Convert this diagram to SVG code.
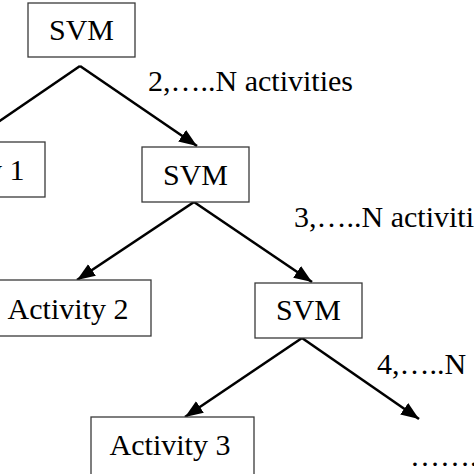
<svg xmlns="http://www.w3.org/2000/svg" width="474" height="474" viewBox="0 0 474 474">
<style>
.box{fill:#fff;stroke:#3a3a3a;stroke-width:1.3}
.t{font-family:"Liberation Serif","Times New Roman",serif;font-size:30px;fill:#000}
.c{text-anchor:middle}
.e{stroke:#000;stroke-width:2.6;fill:none;marker-end:url(#ah)}
</style>
<defs>
<marker id="ah" markerUnits="userSpaceOnUse" markerWidth="20" markerHeight="16" refX="18" refY="7" orient="auto">
<path d="M0,0 L18,7 L0,14 Z" fill="#000"/>
</marker>
</defs>
<rect width="474" height="474" fill="#fff"/>
<g id="connectors">
<line class="e" x1="80" y1="66" x2="-31" y2="142"/>
<line class="e" x1="80" y1="66" x2="197" y2="146"/>
<line class="e" x1="194" y1="202" x2="77" y2="280"/>
<line class="e" x1="194" y1="202" x2="312" y2="282"/>
<line class="e" x1="302" y1="338" x2="185" y2="417"/>
<line class="e" x1="302" y1="338" x2="419" y2="419"/>
</g>
<g id="svm1"><rect class="box" x="28" y="3" width="107" height="54"/><text class="t c" x="81.5" y="40">SVM</text></g>
<g id="activity1"><rect class="box" x="-118" y="142" width="163" height="55"/><text class="t c" x="-36" y="180">Activity 1</text></g>
<g id="svm2"><rect class="box" x="142" y="147" width="107" height="55"/><text class="t c" x="195.5" y="185">SVM</text></g>
<g id="activity2"><rect class="box" x="-12" y="280" width="163" height="56"/><text class="t c" x="68" y="319">Activity 2</text></g>
<g id="svm3"><rect class="box" x="255" y="283" width="107" height="55"/><text class="t c" x="308.5" y="320">SVM</text></g>
<g id="activity3"><rect class="box" x="91" y="417" width="163" height="60"/><text class="t c" x="170" y="455">Activity 3</text></g>
<g id="labels">
<text class="t" x="148" y="91">2,…..N activities</text>
<text class="t" x="294" y="227">3,…..N activities</text>
<text class="t" x="377" y="374">4,…..N activities</text>
<text class="t" x="410" y="466">…….</text>
</g>
</svg>
